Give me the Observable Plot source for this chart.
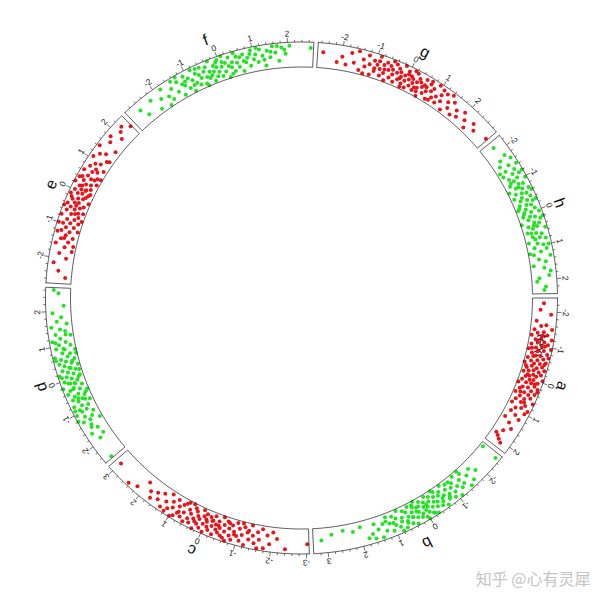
<!DOCTYPE html>
<html><head><meta charset="utf-8">
<script src="https://cdn.jsdelivr.net/npm/d3@7"></script>
<script src="https://cdn.jsdelivr.net/npm/@observablehq/plot@0.6"></script>
<style>body{margin:0;background:#fff}</style>
</head><body><div id="chart"></div>
<script>
const sectors = ["a","b","c","d","e","f","g","h"];
const xlims = [[-2.40,2.21],[-2.63,3.40],[-3.08,3.16],[-2.57,2.68],[-2.73,2.45],[-2.99,2.73],[-2.70,2.95],[-2.33,2.41]];
const majorTicks = [[-2,-1,0,1,2],[-2,-1,0,1,2,3],[-3,-2,-1,0,1,2,3],[-2,-1,0,1,2],[-2,-1,0,1,2],[-2,-1,0,1,2],[-2,-1,0,1,2],[-2,-1,0,1,2]];
const colors = ["#e8141a","#22e322"];
const note = {sector:"a", x:-1, y:0.5, text:"text"};
const watermark = "知乎 @心有灵犀";

const ptsA = [[-2.25,.46],[-2.05,.33],[-1.93,.78],[-1.72,.2],[-1.62,.62],[-1.58,.41],[-1.5,.88],[-1.46,.15],[-1.41,.55],[-1.37,.3],[-1.33,.72],[-1.28,.07],[-1.24,.49],[-1.21,.93],[-1.17,.26],[-1.12,.64],[-1.1,.38],[-1.06,.81],[-1.02,.12],[-0.99,.57],[-0.95,.97],[-0.93,.34],[-0.88,.69],[-0.86,.05],[-0.83,.44],[-0.79,.86],[-0.76,.22],[-0.72,.6],[-0.7,.95],[-0.67,.31],[-0.64,.75],[-0.6,.1],[-0.58,.52],[-0.55,.89],[-0.52,.27],[-0.49,.66],[-0.46,.42],[-0.44,.02],[-0.41,.79],[-0.38,.36],[-0.35,.58],[-0.33,.92],[-0.3,.17],[-0.27,.48],[-0.25,.71],[-0.22,.29],[-0.19,.84],[-0.16,.09],[-0.14,.53],[-0.11,.67],[-0.08,.39],[-0.05,.98],[-0.03,.24],[0.0,.61],[0.03,.45],[0.06,.82],[0.08,.14],[0.11,.56],[0.14,.35],[0.17,.74],[0.2,.04],[0.23,.91],[0.26,.5],[0.29,.28],[0.33,.68],[0.36,.19],[0.39,.87],[0.43,.43],[0.46,.63],[0.5,.08],[0.53,.77],[0.57,.32],[0.61,.54],[0.65,.96],[0.69,.21],[0.73,.47],[0.78,.7],[0.83,.13],[0.88,.59],[0.94,.37],[1.0,.83],[1.07,.25],[1.14,.51],[1.22,.73],[1.31,.16],[1.42,.44],[1.55,.65],[1.7,.4],[1.85,.2],[1.91,.33],[1.98,.45],[2.05,.6],[-1.3,.52],[-0.9,.18],[-0.5,.85],[-0.1,.3],[0.3,.94],[0.7,.6],[-0.7,.4],[0.1,.72],[-0.35,.11],[0.45,.27],[-1.0,.7],[0.9,.9]];
const ptsB = [[-2.52,.12],[-2.49,.83],[-1.85,.55],[-1.72,.3],[-1.64,.78],[-1.55,.45],[-1.48,.9],[-1.42,.2],[-1.36,.62],[-1.3,.38],[-1.25,.71],[-1.2,.08],[-1.15,.52],[-1.1,.95],[-1.06,.27],[-1.01,.66],[-0.97,.41],[-0.93,.84],[-0.88,.15],[-0.84,.58],[-0.8,.33],[-0.76,.76],[-0.72,.05],[-0.68,.49],[-0.64,.92],[-0.6,.24],[-0.57,.68],[-0.53,.37],[-0.5,.81],[-0.46,.11],[-0.43,.56],[-0.39,.29],[-0.36,.73],[-0.33,.47],[-0.29,.97],[-0.26,.18],[-0.23,.63],[-0.2,.35],[-0.17,.86],[-0.14,.07],[-0.11,.51],[-0.08,.74],[-0.05,.26],[-0.02,.6],[0.01,.43],[0.04,.88],[0.07,.14],[0.1,.67],[0.13,.31],[0.16,.79],[0.19,.53],[0.22,.02],[0.25,.46],[0.28,.7],[0.31,.22],[0.35,.94],[0.38,.39],[0.41,.61],[0.45,.1],[0.48,.83],[0.52,.5],[0.55,.28],[0.59,.65],[0.63,.17],[0.67,.89],[0.71,.42],[0.75,.57],[0.8,.06],[0.84,.75],[0.89,.34],[0.94,.6],[0.99,.21],[1.05,.8],[1.11,.44],[1.17,.13],[1.24,.69],[1.31,.36],[1.39,.9],[1.47,.52],[1.56,.25],[1.66,.63],[1.79,.76],[1.98,.21],[2.21,.34],[2.5,.2],[2.85,.3],[3.16,.49],[-1.0,.15],[-0.6,.55],[-0.2,.9],[0.2,.3],[0.6,.72],[1.0,.48],[-0.4,.03],[0.0,.98],[0.4,.6],[-0.8,.68],[0.8,.94],[1.2,.3],[-1.4,.05],[1.6,.85],[-0.1,.4],[0.3,.12]];
const ptsC = [[-3.03,.62],[-2.4,.84],[-2.15,.45],[-2.02,.2],[-1.94,.7],[-1.86,.35],[-1.78,.9],[-1.7,.12],[-1.63,.58],[-1.57,.28],[-1.5,.77],[-1.44,.47],[-1.38,.05],[-1.33,.66],[-1.27,.38],[-1.22,.93],[-1.17,.19],[-1.12,.54],[-1.07,.8],[-1.02,.31],[-0.97,.64],[-0.93,.09],[-0.88,.49],[-0.84,.86],[-0.8,.25],[-0.76,.71],[-0.72,.42],[-0.68,.97],[-0.64,.15],[-0.6,.6],[-0.56,.34],[-0.52,.82],[-0.49,.03],[-0.45,.52],[-0.42,.74],[-0.38,.27],[-0.35,.65],[-0.31,.44],[-0.28,.9],[-0.24,.11],[-0.21,.57],[-0.18,.36],[-0.14,.79],[-0.11,.22],[-0.08,.68],[-0.04,.48],[-0.01,.95],[0.02,.17],[0.05,.62],[0.09,.3],[0.12,.85],[0.15,.07],[0.19,.5],[0.22,.73],[0.26,.4],[0.29,.99],[0.33,.24],[0.36,.59],[0.4,.14],[0.44,.83],[0.48,.45],[0.52,.69],[0.56,.32],[0.6,.9],[0.64,.06],[0.68,.55],[0.73,.78],[0.77,.26],[0.82,.63],[0.87,.41],[0.92,.88],[0.97,.18],[1.03,.6],[1.09,.37],[1.15,.75],[1.21,.12],[1.28,.53],[1.35,.85],[1.43,.29],[1.52,.66],[1.62,.43],[1.72,.8],[1.81,.56],[1.99,.3],[2.2,.76],[2.45,.9],[2.99,.56],[-1.6,.95],[-1.1,.05],[-0.6,.88],[-0.2,.33],[0.3,.67],[0.7,.15],[1.2,.92],[-0.9,.6],[0.0,.4],[0.5,.02],[-1.3,.3],[1.0,.97],[-0.4,.45],[0.85,.7],[-0.7,.2]];
const ptsD = [[2.61,.68],[2.52,.48],[2.15,.27],[1.95,.75],[1.82,.4],[1.7,.6],[1.62,.2],[1.55,.85],[1.47,.5],[1.4,.3],[1.33,.72],[1.27,.1],[1.2,.55],[1.14,.9],[1.08,.35],[1.02,.65],[0.97,.18],[0.92,.8],[0.87,.45],[0.82,.03],[0.78,.58],[0.73,.27],[0.69,.93],[0.65,.4],[0.6,.7],[0.56,.14],[0.52,.52],[0.48,.82],[0.44,.31],[0.4,.63],[0.36,.07],[0.32,.46],[0.28,.77],[0.24,.22],[0.2,.57],[0.16,.95],[0.12,.36],[0.08,.68],[0.04,.12],[0.0,.5],[-0.04,.84],[-0.08,.29],[-0.12,.62],[-0.16,.43],[-0.2,.98],[-0.24,.17],[-0.28,.55],[-0.32,.74],[-0.36,.33],[-0.4,.88],[-0.44,.05],[-0.48,.47],[-0.52,.66],[-0.56,.24],[-0.6,.79],[-0.65,.39],[-0.69,.6],[-0.74,.11],[-0.78,.86],[-0.83,.53],[-0.88,.28],[-0.93,.71],[-0.98,.42],[-1.04,.92],[-1.1,.2],[-1.16,.64],[-1.22,.35],[-1.29,.8],[-1.36,.09],[-1.44,.56],[-1.51,.62],[-1.6,.4],[-1.68,.75],[-1.81,.32],[-1.9,.55],[-2.52,.66],[-1.3,.5],[-0.9,.9],[-0.5,.15],[-0.1,.7],[0.3,.4],[0.7,.02],[1.1,.78],[-0.7,.3],[0.1,.88],[0.5,.25],[-0.3,.6],[0.9,.5],[-1.0,.65],[0.2,.08],[-0.15,.45],[0.6,.92],[1.3,.3],[-1.2,.98],[0.0,.2],[-0.6,.55]];
const ptsE = [[-2.55,.24],[-2.36,.55],[-2.14,.79],[-1.98,.3],[-1.85,.62],[-1.75,.12],[-1.66,.45],[-1.58,.85],[-1.5,.35],[-1.43,.68],[-1.37,.2],[-1.31,.52],[-1.25,.9],[-1.2,.4],[-1.14,.07],[-1.09,.6],[-1.04,.28],[-0.99,.77],[-0.94,.48],[-0.9,.15],[-0.85,.66],[-0.81,.36],[-0.76,.95],[-0.72,.23],[-0.68,.57],[-0.64,.42],[-0.6,.81],[-0.56,.1],[-0.52,.5],[-0.48,.7],[-0.44,.31],[-0.41,.88],[-0.37,.18],[-0.33,.6],[-0.3,.44],[-0.26,.75],[-0.22,.05],[-0.19,.54],[-0.15,.34],[-0.12,.92],[-0.08,.26],[-0.05,.65],[-0.01,.47],[0.02,.83],[0.06,.14],[0.09,.58],[0.13,.38],[0.17,.72],[0.2,.22],[0.24,.97],[0.28,.5],[0.32,.3],[0.36,.67],[0.4,.09],[0.44,.8],[0.48,.42],[0.53,.61],[0.58,.19],[0.63,.88],[0.68,.53],[0.74,.33],[0.8,.74],[0.86,.13],[0.93,.6],[1.0,.4],[1.08,.85],[1.16,.25],[1.24,.68],[1.33,.46],[1.43,.9],[1.55,.2],[1.68,.63],[1.82,.78],[1.97,.35],[2.1,.58],[2.22,.71],[2.42,.45],[-1.6,.1],[-1.2,.75],[-0.8,.05],[-0.4,.5],[0.0,.2],[0.4,.9],[0.8,.45],[-1.0,.95],[-0.6,.3],[-0.2,.83],[0.2,.62],[0.6,.05],[1.2,.15],[-1.4,.55],[0.1,.4],[-0.5,.98],[0.5,.27]];
const ptsF = [[-2.63,.65],[-2.5,.3],[-2.23,.7],[-2.1,.15],[-1.95,.5],[-1.82,.85],[-1.72,.4],[-1.63,.2],[-1.55,.62],[-1.47,.9],[-1.4,.35],[-1.33,.75],[-1.27,.1],[-1.21,.55],[-1.15,.45],[-1.1,.82],[-1.04,.25],[-0.99,.66],[-0.94,.04],[-0.89,.5],[-0.84,.93],[-0.8,.32],[-0.75,.7],[-0.71,.18],[-0.66,.58],[-0.62,.42],[-0.58,.86],[-0.54,.12],[-0.5,.63],[-0.46,.36],[-0.42,.78],[-0.38,.27],[-0.34,.53],[-0.3,.97],[-0.26,.08],[-0.22,.47],[-0.19,.7],[-0.15,.22],[-0.11,.6],[-0.07,.38],[-0.04,.89],[0.0,.16],[0.04,.55],[0.08,.74],[0.12,.3],[0.16,.65],[0.2,.02],[0.24,.48],[0.28,.84],[0.32,.4],[0.36,.6],[0.4,.2],[0.45,.95],[0.5,.52],[0.55,.33],[0.6,.72],[0.65,.11],[0.7,.8],[0.76,.44],[0.82,.62],[0.88,.26],[0.94,.9],[1.0,.5],[1.06,.68],[1.12,.35],[1.19,.86],[1.26,.58],[1.33,.15],[1.4,.76],[1.48,.47],[1.56,.92],[1.64,.64],[1.73,.28],[1.82,.82],[1.93,.55],[2.05,.88],[2.65,.78],[-1.8,.05],[-1.3,.95],[-0.9,.28],[-0.5,.02],[-0.1,.8],[0.3,.12],[0.7,.52],[1.1,.95],[1.5,.7],[-0.7,.88],[0.1,.98],[0.9,.75],[1.3,.4],[-1.1,.6],[0.5,.78],[1.7,.9],[-0.3,.35],[1.9,.72]];
const ptsG = [[-2.54,.63],[-2.12,.3],[-1.98,.55],[-1.85,.25],[-1.72,.78],[-1.62,.4],[-1.52,.92],[-1.44,.15],[-1.36,.62],[-1.29,.35],[-1.22,.85],[-1.16,.5],[-1.1,.08],[-1.04,.7],[-0.99,.28],[-0.94,.58],[-0.89,.95],[-0.84,.44],[-0.8,.17],[-0.75,.66],[-0.71,.33],[-0.67,.8],[-0.63,.05],[-0.59,.52],[-0.55,.72],[-0.51,.23],[-0.47,.6],[-0.44,.4],[-0.4,.88],[-0.36,.13],[-0.33,.55],[-0.29,.75],[-0.25,.3],[-0.22,.64],[-0.18,.46],[-0.15,.97],[-0.11,.2],[-0.08,.58],[-0.04,.37],[-0.01,.82],[0.03,.1],[0.06,.5],[0.1,.68],[0.13,.27],[0.17,.6],[0.2,.43],[0.24,.9],[0.27,.16],[0.31,.55],[0.35,.74],[0.38,.34],[0.42,.63],[0.46,.03],[0.5,.48],[0.54,.85],[0.58,.25],[0.62,.57],[0.66,.4],[0.7,.77],[0.75,.12],[0.79,.52],[0.84,.67],[0.89,.3],[0.94,.93],[0.99,.45],[1.05,.2],[1.11,.62],[1.17,.38],[1.24,.8],[1.31,.1],[1.38,.55],[1.46,.33],[1.54,.7],[1.63,.18],[1.72,.5],[1.82,.28],[1.95,.65],[2.08,.4],[2.2,.15],[2.35,.55],[2.48,.35],[2.9,.51],[-1.3,.05],[-0.9,.75],[-0.5,.95],[-0.1,.05],[0.3,.3],[0.7,.9],[1.1,.85],[-0.7,.48],[0.0,.7],[0.4,.2],[0.85,.15],[-0.2,.38],[1.4,.9],[0.55,.6],[-1.0,.4],[0.15,.95]];
const ptsH = [[-2.15,.51],[-1.8,.7],[-1.72,.4],[-1.65,.85],[-1.58,.25],[-1.5,.6],[-1.44,.92],[-1.38,.35],[-1.32,.72],[-1.27,.15],[-1.22,.55],[-1.17,.82],[-1.12,.3],[-1.07,.65],[-1.02,.45],[-0.98,.95],[-0.93,.2],[-0.89,.58],[-0.85,.75],[-0.8,.38],[-0.76,.05],[-0.72,.62],[-0.68,.88],[-0.64,.27],[-0.6,.52],[-0.56,.7],[-0.52,.12],[-0.48,.44],[-0.44,.8],[-0.4,.33],[-0.36,.6],[-0.32,.97],[-0.28,.22],[-0.24,.5],[-0.2,.68],[-0.16,.08],[-0.12,.4],[-0.08,.78],[-0.04,.3],[0.0,.57],[0.04,.9],[0.08,.18],[0.12,.46],[0.16,.66],[0.2,.35],[0.24,.85],[0.28,.02],[0.32,.55],[0.36,.74],[0.4,.26],[0.44,.62],[0.48,.42],[0.52,.93],[0.57,.15],[0.62,.5],[0.67,.72],[0.72,.32],[0.77,.6],[0.82,.84],[0.87,.1],[0.93,.45],[0.99,.68],[1.05,.28],[1.11,.78],[1.18,.52],[1.25,.2],[1.32,.88],[1.4,.38],[1.48,.65],[1.57,.12],[1.66,.55],[1.76,.8],[1.88,.72],[1.95,.3],[2.05,.2],[2.2,.55],[2.3,.48],[-1.4,.1],[-1.0,.3],[-0.6,.95],[-0.2,.15],[0.2,.98],[0.6,.3],[1.0,.9],[-0.8,.5],[0.0,.25],[0.4,.5],[-0.3,.82],[1.2,.05],[0.8,.4],[-1.2,.98]];
const sectorPts = [ptsA, ptsB, ptsC, ptsD, ptsE, ptsF, ptsG, ptsH];

// geometry
const W = 600, H = 597, CX = 301, CY = 297.5;
const rIn = 231, rOut = 256, gapDeg = 1;
const k = (360 - gapDeg * sectors.length) / d3.sum(xlims, l => l[1] - l[0]);
let acc = 0;
const starts = xlims.map(l => { const s = acc; acc += (l[1] - l[0]) * k + gapDeg; return s; });
const theta = (i, x) => starts[i] + (x - xlims[i][0]) * k;
const rad = y => rIn + (y + 0.02) / 1.04 * (rOut - rIn);
const PX = (t, r) => r * Math.cos(t * Math.PI / 180);
const PY = (t, r) => r * Math.sin(t * Math.PI / 180);

const points = sectorPts.flatMap((arr, i) => arr.map(([x, y]) => ({i, t: theta(i, x), r: rad(y)})));

const box = sectors.flatMap((s, i) => {
  const t0 = theta(i, xlims[i][0]), t1 = theta(i, xlims[i][1]);
  const ts = d3.range(61).map(j => t0 + (t1 - t0) * j / 60);
  return [...ts.map(t => ({i, t, r: rOut})), ...ts.slice().reverse().map(t => ({i, t, r: rIn})), {i, t: t0, r: rOut}];
});

const majors = majorTicks.flatMap((ts, i) => ts.map(v => ({i, v, t: theta(i, v), len: 4.5})));
const minors = xlims.flatMap((l, i) => d3.range(Math.ceil((l[0] + 0.08) * 5), Math.floor((l[1] - 0.08) * 5) + 1)
  .filter(m => m % 5 !== 0).map(m => ({i, t: theta(i, m / 5), len: 2.2})));
const ticks = [...majors, ...minors];

const labels = sectors.map((s, i) => ({s, t: theta(i, (xlims[i][0] + xlims[i][1]) / 2)}));
const ni = sectors.indexOf(note.sector);
const noteD = [{t: theta(ni, note.x), r: rad(note.y), text: note.text}];

const chart = Plot.plot({
  width: W, height: H, margin: 0,
  x: {domain: [-CX, W - CX], range: [0, W], axis: null},
  y: {domain: [-CY, H - CY], range: [0, H], axis: null},
  color: {type: "identity"},
  style: {fontFamily: "'Liberation Sans', Arial, sans-serif", background: "#fff", overflow: "visible"},
  marks: [
    Plot.text(noteD, {x: d => PX(d.t, d.r), y: d => PY(d.t, d.r), text: "text", rotate: d => d.t + 90, fontSize: 15, fill: "#111"}),
    Plot.dot(points, {x: d => PX(d.t, d.r), y: d => PY(d.t, d.r), r: 2, fill: d => colors[d.i % 2], stroke: "none"}),
    Plot.line(box, {x: d => PX(d.t, d.r), y: d => PY(d.t, d.r), z: "i", stroke: "#333", strokeWidth: 0.8}),
    Plot.link(ticks, {x1: d => PX(d.t, rOut), y1: d => PY(d.t, rOut), x2: d => PX(d.t, rOut + d.len), y2: d => PY(d.t, rOut + d.len), stroke: "#333", strokeWidth: 0.7}),
    Plot.text(majors, {x: d => PX(d.t, rOut + 8.5), y: d => PY(d.t, rOut + 8.5), text: d => String(d.v), rotate: d => d.t + 90, fontSize: 8.5, fill: "#222"}),
    Plot.text(labels, {x: d => PX(d.t, 275), y: d => PY(d.t, 275), text: "s", rotate: d => d.t + 90, fontSize: 16, fill: "#111"}),
    Plot.text([watermark], {frameAnchor: "bottom-right", text: d => d, dx: -10, dy: -13, textAnchor: "end", fontSize: 16, fill: "#c4c4c4", fontFamily: "'Noto Sans CJK SC', sans-serif"})
  ]
});
document.getElementById("chart").appendChild(chart);
</script>
</body></html>
